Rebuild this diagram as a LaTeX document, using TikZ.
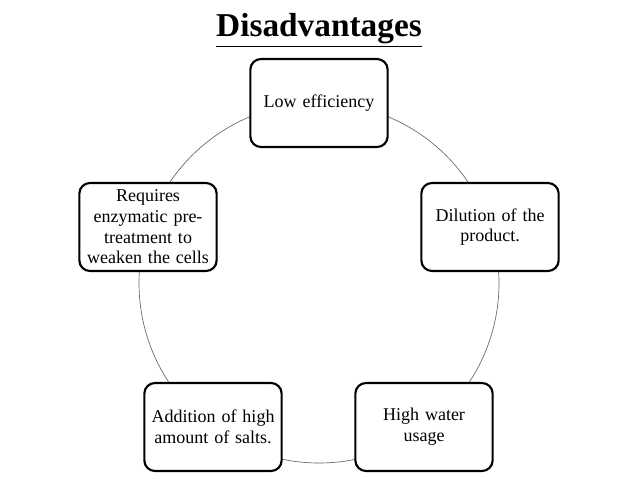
\documentclass[tikz,border=0pt]{standalone}
\usepackage{fontspec}
\setmainfont{Liberation Serif}
\begin{document}
\begin{tikzpicture}[x=0.75pt,y=-0.75pt,
  box/.style={draw=black,line width=1.6pt,rounded corners=8pt,fill=white,minimum width=103pt,minimum height=66pt,align=center,text width=98pt,font=\fontsize{13.5}{15.5}\selectfont,inner sep=1pt}]
\useasboundingbox (0,0) rectangle (638,478);
\node (t) at (319,30) {\fontsize{25}{28}\selectfont\bfseries\underline{Disadvantages}};
\draw[gray!80!black,line width=0.5pt] (319,283) circle (180);
\node[box] (a) at (319,103) {Low efficiency};
\node[box] (b) at (490,227) {Dilution of the\\product.};
\node[box] (c) at (424,427) {High water\\usage};
\node[box] (d) at (213,427) {Addition of high\\amount of salts.};
\node[box] (e) at (148,227) {Requires\\enzymatic pre-\\treatment to\\weaken the cells};
\end{tikzpicture}
\end{document}
